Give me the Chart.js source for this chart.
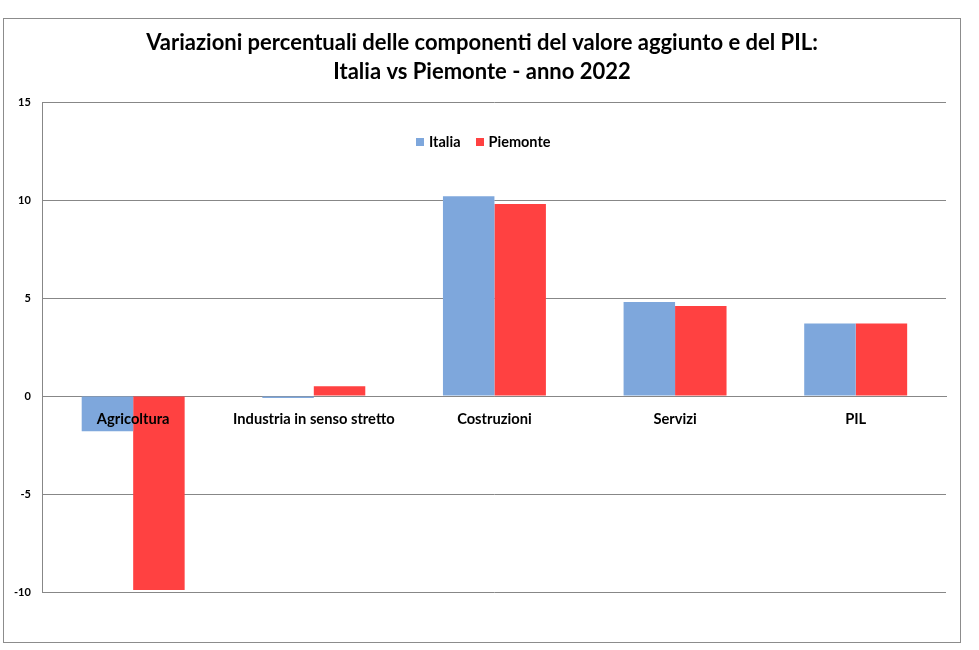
<!DOCTYPE html>
<html>
<head>
<meta charset="utf-8">
<script src="https://cdn.jsdelivr.net/npm/chart.js@4.4.1/dist/chart.umd.min.js"></script>
<style>
  body { margin: 0; background: #fff; }
  #wrap { position: relative; width: 979px; height: 650px; }
  #frame { position: absolute; left: 3px; top: 18px; width: 956px; height: 623px; border: 1px solid #8c8c8c; }
  #legend { position: absolute; left: 416px; top: 133px; font: bold 14.5px Lato, sans-serif; color: #000; display: flex; align-items: center; }
  #legend span.box { display: inline-block; width: 8px; height: 8px; margin-right: 5px; }
  #legend span.item { display: inline-flex; align-items: center; margin-right: 15px; }
  canvas { position: absolute; left: 0; top: 0; }
</style>
</head>
<body>
<div id="wrap">
  <div id="frame"></div>
  <canvas id="myChart" width="979" height="650"></canvas>
  <div id="legend"></div>
</div>
<script>
// data
var categories = ['Agricoltura', 'Industria in senso stretto', 'Costruzioni', 'Servizi', 'PIL'];
var italia = [-1.8, -0.1, 10.2, 4.8, 3.7];
var piemonte = [-9.9, 0.5, 9.8, 4.6, 3.7];
var yTicks = [-10, -5, 0, 5, 10, 15];

var gridColor = '#878787';

// the title in the original is centred on the frame, not on the plot
var centerTitle = {
    id: 'centerTitle',
    afterLayout: function(chart) {
        if (chart.titleBlock) {
            chart.titleBlock.left = 18;
            chart.titleBlock.right = 946;
        }
    }
};

var ctx = document.getElementById('myChart').getContext('2d');
var myChart = new Chart(ctx, {
    type: 'bar',
    data: {
        labels: categories,
        datasets: [{
            label: 'Italia',
            data: italia,
            backgroundColor: '#7ea7dc',
            borderWidth: 0
        }, {
            label: 'Piemonte',
            data: piemonte,
            backgroundColor: '#ff4141',
            borderWidth: 0
        }]
    },
    plugins: [centerTitle],
    options: {
        responsive: false,
        animation: false,
        layout: {
            padding: { top: 18, left: 2, right: 33, bottom: 58 }
        },
        categoryPercentage: 0.57,
        barPercentage: 1.0,
        plugins: {
            legend: { display: false },
            tooltip: { enabled: false },
            title: {
                display: true,
                text: ['Variazioni percentuali delle componenti del valore aggiunto e del PIL:', 'Italia vs Piemonte - anno 2022'],
                color: '#000',
                font: { family: 'Lato', size: 22, weight: 'bold', lineHeight: 1.32 },
                padding: { top: 10, bottom: 16 }
            }
        },
        scales: {
            x: {
                position: { y: 0 },
                grid: { display: false },
                border: { display: true, color: gridColor },
                ticks: {
                    z: 1,
                    color: '#000',
                    padding: 6,
                    maxRotation: 0,
                    autoSkip: false,
                    font: { family: 'Lato', size: 14.7, weight: 'bold' }
                }
            },
            y: {
                min: -10,
                max: 15,
                afterBuildTicks: function(axis) {
                    axis.ticks = yTicks.map(function(v) { return { value: v }; });
                },
                grid: { color: gridColor, drawTicks: false },
                border: { display: true, color: gridColor },
                ticks: {
                    color: '#000',
                    padding: 12,
                    font: { family: 'Lato', size: 11, weight: 'bold' }
                }
            }
        }
    }
});

// legend drawn as html, inside the plot area like the original
var legendBox = document.getElementById('legend');
myChart.data.datasets.forEach(function(ds) {
    var item = document.createElement('span');
    item.className = 'item';
    var sw = document.createElement('span');
    sw.className = 'box';
    sw.style.background = ds.backgroundColor;
    item.appendChild(sw);
    item.appendChild(document.createTextNode(ds.label));
    legendBox.appendChild(item);
});
</script>
</body>
</html>
